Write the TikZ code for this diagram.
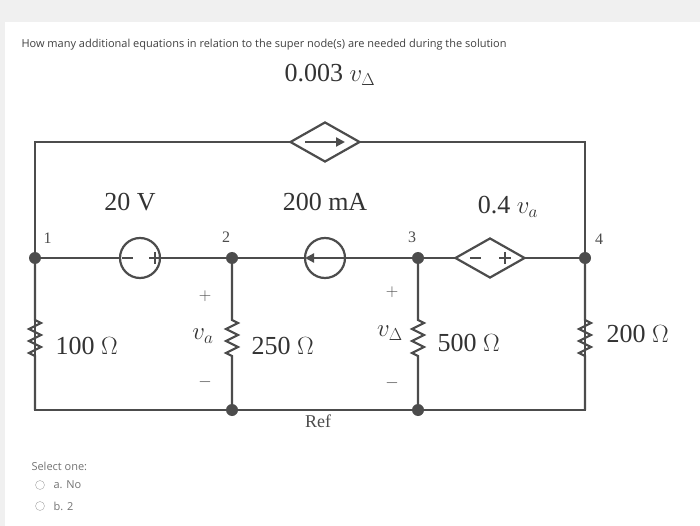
\documentclass[tikz,border=0pt]{standalone}
\usepackage{fontspec}
\setmainfont{Liberation Serif}
\newfontfamily\uifont{Open Sans}
\usetikzlibrary{arrows.meta,shapes.geometric,backgrounds}
\begin{document}
\begin{tikzpicture}[x=1pt,y=-1pt,
  wire/.style={line width=2.2pt,draw=black!70},
  sign/.style={line width=1.6pt,draw=black!70},
  dot/.style={circle,fill=black!70,inner sep=0pt,minimum size=12pt},
  src/.style={circle,draw=black!70,line width=2.2pt,fill=white,minimum size=40pt,inner sep=0pt},
  dsrc/.style={diamond,draw=black!70,line width=2.2pt,fill=white,minimum width=70pt,minimum height=40pt,inner sep=0pt},
  lbl/.style={font=\fontsize{26}{28}\selectfont,text=black!80},
  small/.style={font=\fontsize{16}{18}\selectfont,text=black!70},
  ui/.style={font=\uifont\fontsize{11}{13}\selectfont,text=black!75}]
\useasboundingbox (0,0) rectangle (700,526);
\node[ui,anchor=west] (q) at (18,45) {How many additional equations in relation to the super node(s) are needed during the solution};
\node[lbl] (gain) at (330,75) {0.003 $v_\Delta$};
\coordinate (tl) at (35,142); \coordinate (tr) at (585,142);
\coordinate (bl) at (35,410); \coordinate (br) at (585,410);
\node[dot] (n1) at (35,258) {};
\node[dot] (n2) at (232,258) {};
\node[dot] (n3) at (418,258) {};
\node[dot] (n4) at (585,258) {};
\node[dot] (b2) at (232,410) {};
\node[dot] (b3) at (418,410) {};
\node[dsrc] (dtop) at (325,142) {};
\node[src] (v20) at (140,258) {};
\node[src] (i200) at (325,258) {};
\node[dsrc] (dmid) at (490,258) {};
\begin{scope}[on background layer]
\fill[black!6] (0,0) rectangle (700,526);
\fill[white] (5,22) rectangle (700,526);
\draw[wire] (n1.center) -- (tl) -- (dtop.center) -- (tr) -- (n4.center);
\draw[wire] (n1.center) -- (v20.center) -- (n2.center) -- (i200.center) -- (n3.center) -- (dmid.center) -- (n4.center);
\draw[wire] (n1.center) -- (bl) -- (br) -- (n4.center);
\foreach \x in {35,232,418,585}{
  \draw[wire] (\x,258) -- (\x,320) -- ++(6,3) -- ++(-12,6) -- ++(12,6) -- ++(-12,6) -- ++(12,6) -- ++(-12,6) -- ++(6,3) -- (\x,410);
}
\end{scope}
\draw[wire,-{Triangle[length=9pt,width=9pt]}] (305,142) -- (345,142);
\draw[wire,-{Triangle[length=9pt,width=9pt]}] (345,258) -- (305,258);
\draw[sign] (122,258) -- (133,258);
\draw[sign] (149,258) -- (161,258) (155,252) -- (155,264);
\draw[sign] (470,258) -- (481,258);
\draw[sign] (499,258) -- (511,258) (505,252) -- (505,264);
\node[lbl] (l20) at (130,202) {20 V};
\node[lbl] (l200) at (325,202) {200 mA};
\node[lbl] (l04) at (508,207) {0.4 $v_a$};
\node[small,anchor=west] at (40,238) {1};
\node[small] at (226,237) {2};
\node[small] at (412,237) {3};
\node[small] at (599,239) {4};
\node[lbl,anchor=west] at (52,346) {100 $\Omega$};
\node[lbl,anchor=west] at (248,346) {250 $\Omega$};
\node[lbl,anchor=west] at (434,343) {500 $\Omega$};
\node[lbl,anchor=west] at (603,334) {200 $\Omega$};
\node[small] at (205,296) {$+$};
\node[lbl] at (203,336) {$v_a$};
\node[small] at (205,382) {$-$};
\node[small] at (392,292) {$+$};
\node[lbl] at (390,333) {$v_\Delta$};
\node[small] at (392,383) {$-$};
\node[small,font=\fontsize{18}{20}\selectfont] (ref) at (318,421) {Ref};
\node[ui,anchor=west,text=black!55] at (28,466) {Select one:};
\node[ui,anchor=west,text=black!55] at (50,485) {a. No};
\node[ui,anchor=west,text=black!55] at (50,506) {b. 2};
\draw[black!35] (40,485) circle (4.5pt);
\draw[black!35] (40,506) circle (4.5pt);
\end{tikzpicture}
\end{document}
